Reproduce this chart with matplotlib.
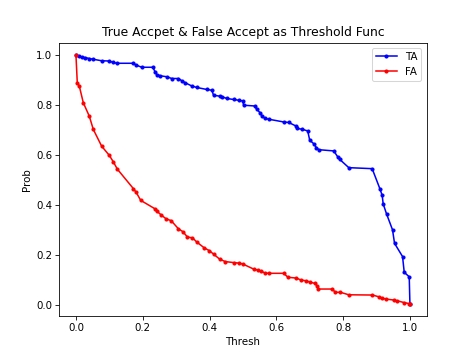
import numpy as np
import matplotlib.pyplot as plt

# threshold sweep, values
ta_thresh = [0.0, 0.01, 0.017, 0.027, 0.04, 0.052, 0.077, 0.1, 0.11, 0.122,
             0.172, 0.18, 0.197, 0.23, 0.237, 0.242, 0.252, 0.272, 0.287, 0.307,
             0.317, 0.327, 0.347, 0.362, 0.392, 0.407, 0.412, 0.432, 0.437, 0.452,
             0.472, 0.487, 0.5, 0.502, 0.535, 0.542, 0.552, 0.557, 0.567, 0.577,
             0.622, 0.637, 0.66, 0.662, 0.677, 0.694, 0.70, 0.712, 0.72, 0.727,
             0.772, 0.784, 0.79, 0.817, 0.887, 0.91, 0.917, 0.92, 0.93, 0.948,
             0.954, 0.978, 0.983, 0.998, 1.0]
ta_prob = [1.0, 0.996, 0.991, 0.99, 0.986, 0.983, 0.977, 0.976, 0.971, 0.967,
           0.967, 0.96, 0.951, 0.951, 0.933, 0.922, 0.917, 0.913, 0.906, 0.906,
           0.897, 0.889, 0.876, 0.87, 0.862, 0.859, 0.839, 0.835, 0.833, 0.826,
           0.822, 0.819, 0.816, 0.799, 0.796, 0.782, 0.768, 0.756, 0.746, 0.743,
           0.732, 0.73, 0.715, 0.706, 0.703, 0.696, 0.659, 0.645, 0.629, 0.621,
           0.616, 0.592, 0.582, 0.549, 0.545, 0.465, 0.438, 0.404, 0.364, 0.3,
           0.246, 0.193, 0.13, 0.112, 0.005]

fa_thresh = [0.0, 0.004, 0.01, 0.022, 0.04, 0.052, 0.077, 0.1, 0.112, 0.124,
             0.172, 0.18, 0.194, 0.237, 0.242, 0.255, 0.27, 0.285, 0.307, 0.32,
             0.334, 0.349, 0.362, 0.384, 0.399, 0.412, 0.43, 0.447, 0.472, 0.487,
             0.5, 0.532, 0.544, 0.554, 0.567, 0.577, 0.622, 0.635, 0.66, 0.674,
             0.69, 0.702, 0.715, 0.722, 0.725, 0.767, 0.777, 0.792, 0.817, 0.888,
             0.907, 0.917, 0.927, 0.952, 0.962, 0.982, 0.997, 1.0]
fa_prob = [1.0, 0.889, 0.876, 0.809, 0.755, 0.702, 0.635, 0.598, 0.572, 0.543,
           0.465, 0.451, 0.418, 0.384, 0.375, 0.36, 0.344, 0.337, 0.304, 0.293,
           0.271, 0.268, 0.251, 0.228, 0.217, 0.203, 0.183, 0.173, 0.169, 0.167,
           0.163, 0.143, 0.139, 0.134, 0.127, 0.126, 0.126, 0.11, 0.107, 0.099,
           0.096, 0.09, 0.086, 0.076, 0.063, 0.063, 0.05, 0.05, 0.04, 0.039,
           0.032, 0.027, 0.023, 0.019, 0.016, 0.009, 0.005, 0.005]


def main():
    fig, ax = plt.subplots(figsize=(474 / 74, 355 / 74), dpi=74)
    ax.plot(ta_thresh, ta_prob, 'b.-', label='TA')
    ax.plot(fa_thresh, fa_prob, 'r.-', label='FA')
    ax.set_title('True Accpet & False Accept as Threshold Func')
    ax.set_xlabel('Thresh')
    ax.set_ylabel('Prob')
    ax.legend(loc='best')
    fig.savefig('out.png')


if __name__ == '__main__':
    main()
